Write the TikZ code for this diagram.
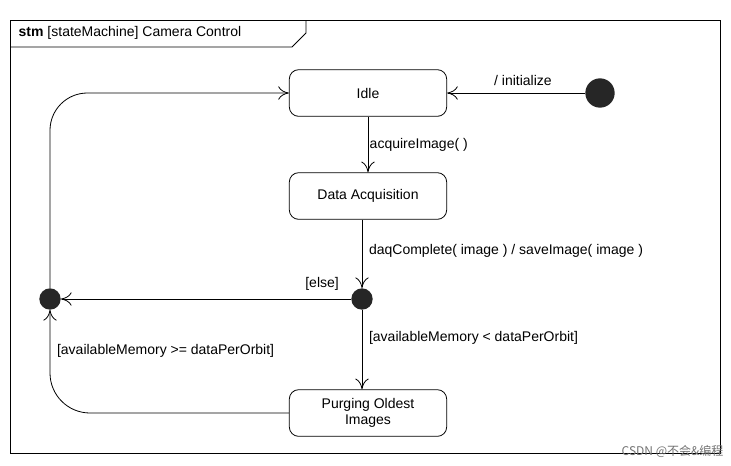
\documentclass[tikz,border=0pt]{standalone}
\usepackage{fontspec}
\setmainfont{Liberation Sans}
\newfontfamily\cjk{Noto Sans CJK SC}
\usetikzlibrary{arrows.meta}
\begin{document}
\begin{tikzpicture}[x=0.75pt,y=-0.75pt,
  st/.style={draw,rounded corners=7pt,minimum width=118pt,minimum height=35pt,align=center,font=\fontsize{10.5}{12}\selectfont,line width=0.6pt},
  dot/.style={circle,fill=black!85,inner sep=0pt,minimum size=#1},
  tr/.style={-{To[length=8pt,width=10pt]},line width=0.6pt},
  lb/.style={font=\fontsize{10.5}{12}\selectfont,inner sep=1pt}]
\useasboundingbox (0,0) rectangle (731,465);
\fill[white] (0,0) rectangle (731,465);
\draw[line width=0.6pt] (10,20) rectangle (720,453);
\draw[line width=0.6pt] (10,47) -- (292,47) -- (306,33) -- (306,20);
\node[anchor=west,font=\fontsize{10.5}{12}\selectfont] (title) at (14,33) {\textbf{stm} [stateMachine] Camera Control};
\node[st] (idle) at (368,93) {Idle};
\node[st] (daq) at (368,196) {Data Acquisition};
\node[st] (purge) at (368,413) {Purging Oldest\\Images};
\node[dot=22pt] (init) at (600,93) {};
\node[dot=16pt] (choice) at (362,299) {};
\node[dot=16pt] (junc) at (50,299) {};
\draw[tr] (init) -- node[lb,above,pos=0.45,yshift=4pt]{/ initialize} (idle);
\draw[tr] (idle.south -| 368,0) -- node[lb,right,pos=0.5]{acquireImage( )} (daq);
\draw[tr] (daq.south -| 362,0) -- node[lb,right,pos=0.45,xshift=4pt]{daqComplete( image ) / saveImage( image )} (choice);
\draw[tr] (choice) -- node[lb,above,pos=0.1,yshift=5pt]{[else]} (junc);
\draw[tr] (choice) -- node[lb,right,pos=0.35,xshift=4pt]{[availableMemory < dataPerOrbit]} (purge.north -| choice);
\draw[tr,rounded corners=30pt] (purge.west) -- (50,413) -- node[lb,right,pos=0.6,xshift=4pt]{[availableMemory >= dataPerOrbit]} (junc);
\draw[tr,rounded corners=28pt] (junc) -- (50,93) -- (idle.west);
\node[anchor=south east,font=\cjk\small,text=black!55] (wm) at (728,462) {CSDN @不会\&编程};
\end{tikzpicture}
\end{document}
